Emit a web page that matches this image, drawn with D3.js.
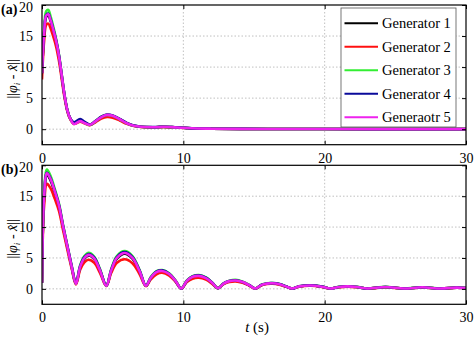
<!DOCTYPE html>
<html><head><meta charset="utf-8">
<script src="https://cdn.jsdelivr.net/npm/d3@7"></script>
<style>
body{margin:0;background:#fff;}
svg{display:block;}
</style></head>
<body><svg id="c" width="474" height="338"></svg>
<script>
// ---------- data ----------
const seriesNames = ["Generator 1","Generator 2","Generator 3","Generator 4","Generaotr 5"];
const seriesColors = ["#000000","#ff1010","#33ee33","#0a0a9a","#ee22ee"];
const xTicks = [0,10,20,30];
const yTicks = [0,5,10,15,20];

// panel (a)
const timeA = [0,0.15,0.3,0.45,0.6,0.8,1.0,1.2,1.4,1.6,1.8,2.0,2.25,2.7,3.0,3.4,3.8,4.2,4.6,5.0,5.5,6.0,6.5,7.0,8.0,8.6,9.2,10,11,12,14,17,20,25,30];
const a_gen1 = [9,15.4,18.1,18.3,17.5,15.9,14.1,11.7,8.5,5.3,3.0,1.7,0.9,1.4,1.05,0.7,1.3,1.95,2.25,2.1,1.6,0.95,0.55,0.38,0.32,0.37,0.33,0.22,0.12,0.08,0.05,0.03,0.02,0.01,0.01];
const a_gen2 = [8,14.2,16.8,17.0,16.3,14.9,13.3,11.0,8.0,5.0,2.8,1.6,0.85,1.2,0.95,0.65,1.15,1.7,1.95,1.85,1.4,0.85,0.5,0.35,0.3,0.35,0.3,0.2,0.1,0.07,0.04,0.03,0.02,0.01,0.01];
const a_gen3 = [9.5,16.2,19.0,19.2,18.2,16.5,14.5,12,8.7,5.4,3.0,1.7,0.9,1.35,1.05,0.7,1.3,2.0,2.3,2.15,1.6,0.95,0.55,0.38,0.32,0.38,0.33,0.22,0.12,0.08,0.05,0.03,0.02,0.01,0.01];
const a_gen4 = [9,15.6,18.4,18.6,17.7,16.1,14.3,11.9,8.6,5.4,3.0,1.75,1.1,1.65,1.2,0.75,1.35,2.0,2.35,2.2,1.65,1.0,0.58,0.4,0.33,0.4,0.34,0.23,0.12,0.08,0.05,0.03,0.02,0.01,0.01];
const a_gen5 = [9,15.5,18.3,18.5,17.6,16,14.2,11.8,8.6,5.4,3.0,1.7,0.85,1.3,1.0,0.7,1.3,1.95,2.3,2.15,1.6,0.95,0.55,0.38,0.32,0.38,0.33,0.22,0.12,0.08,0.05,0.03,0.02,0.01,0.01];

// panel (b)
const timeB = [0,0.15,0.35,0.6,0.9,1.2,1.5,1.8,2.1,2.4,
 2.7,3.0,3.3,3.7,4.1,4.55,
 4.9,5.3,5.85,6.4,6.9,7.35,
 7.7,8.1,8.5,9.0,9.45,9.85,
 10.25,10.65,11.1,11.6,12.05,12.45,
 12.85,13.25,13.7,14.2,14.65,15.1,
 15.5,15.9,16.3,16.8,17.25,17.7,
 18.2,19.0,19.8,20.4,
 21.0,21.6,22.3,23.0,
 24.3,25.6,26.9,28.2,29.3,30];
const b_gen1 = [1,14.8,18.5,17.6,15.6,13.4,9.9,6.7,3.5,0.8,
 3.5,4.9,5.4,4.8,2.95,0.5,
 2.95,4.9,5.7,4.9,2.85,0.5,
 1.75,2.65,2.85,2.35,1.25,0.05,
 1.25,1.9,2.05,1.7,0.92,0.1,
 0.82,1.22,1.32,1.07,0.58,0.05,
 0.58,0.83,0.88,0.73,0.39,0.05,
 0.39,0.54,0.34,0.05,
 0.29,0.39,0.29,0.05,
 0.29,0.05,0.24,0.05,0.19,0.14];
const b_gen2 = [1,13.5,17.0,16.3,14.6,12.6,9.4,6.3,3.3,0.7,
 3.1,4.3,4.7,4.2,2.6,0.45,
 2.6,4.2,4.8,4.15,2.4,0.45,
 1.55,2.35,2.6,2.15,1.15,0.05,
 1.1,1.65,1.8,1.5,0.8,0.1,
 0.75,1.1,1.2,0.98,0.52,0.05,
 0.55,0.78,0.82,0.68,0.36,0.05,
 0.36,0.5,0.32,0.05,
 0.27,0.36,0.27,0.05,
 0.27,0.05,0.22,0.05,0.18,0.13];
const b_gen3 = [1,15.5,19.3,18.3,16.2,13.8,10.2,6.9,3.7,0.85,
 3.8,5.3,5.85,5.2,3.2,0.5,
 3.2,5.3,6.1,5.3,3.05,0.5,
 1.9,2.85,3.05,2.5,1.35,0.05,
 1.35,2.05,2.25,1.85,1.0,0.1,
 0.9,1.3,1.45,1.15,0.65,0.05,
 0.65,0.9,0.95,0.8,0.42,0.05,
 0.42,0.58,0.37,0.05,
 0.32,0.42,0.32,0.05,
 0.32,0.05,0.26,0.05,0.21,0.16];
const b_gen4 = [1,15.1,18.8,17.9,15.9,13.6,10.1,6.9,3.7,0.9,
 3.7,5.15,5.65,5.05,3.1,0.5,
 3.1,5.15,5.95,5.15,3.0,0.5,
 1.85,2.8,3.0,2.45,1.3,0.05,
 1.3,2.0,2.2,1.8,0.98,0.1,
 0.88,1.28,1.4,1.12,0.62,0.05,
 0.62,0.88,0.92,0.77,0.41,0.05,
 0.41,0.56,0.36,0.05,
 0.31,0.41,0.31,0.05,
 0.31,0.05,0.25,0.05,0.2,0.15];
const b_gen5 = [1,15,18.7,17.8,15.8,13.5,10,6.8,3.6,0.8,
 3.6,5.0,5.5,4.9,3.0,0.5,
 3.0,5.0,5.8,5.0,2.9,0.5,
 1.8,2.7,2.9,2.4,1.3,0.05,
 1.3,1.95,2.1,1.75,0.95,0.1,
 0.85,1.25,1.35,1.1,0.6,0.05,
 0.6,0.85,0.9,0.75,0.4,0.05,
 0.4,0.55,0.35,0.05,
 0.3,0.4,0.3,0.05,
 0.3,0.05,0.25,0.05,0.2,0.15];

// ---------- drawing ----------
const FONT = '"Liberation Serif"';
const svg = d3.select("#c");
const X0 = 42, X1 = 466;
const panels = [
  {label:"(a)", t:timeA, s:[a_gen1,a_gen2,a_gen3,a_gen4,a_gen5], top:5, bottom:144.7, legend:true},
  {label:"(b)", t:timeB, s:[b_gen1,b_gen2,b_gen3,b_gen4,b_gen5], top:165.3, bottom:304.3, legend:false}
];

const x = d3.scaleLinear().domain([0,30]).range([X0,X1]);

panels.forEach((p,pi)=>{
  const y = d3.scaleLinear().domain([-2.5,20]).range([p.bottom,p.top]);
  const g = svg.append("g");
  const clipId = "clip"+pi;
  svg.append("clipPath").attr("id",clipId).append("rect")
    .attr("x",X0).attr("y",p.top).attr("width",X1-X0).attr("height",p.bottom-p.top);

  // grid
  g.selectAll(".gx").data(xTicks.filter(v=>v>0&&v<30)).enter().append("line")
    .attr("x1",d=>x(d)).attr("x2",d=>x(d)).attr("y1",p.top).attr("y2",p.bottom)
    .attr("stroke","#b0b0b0").attr("stroke-width",0.8).attr("stroke-dasharray","1.5,2");
  g.selectAll(".gy").data(yTicks.filter(v=>v<20)).enter().append("line")
    .attr("x1",X0).attr("x2",X1).attr("y1",d=>y(d)).attr("y2",d=>y(d))
    .attr("stroke","#b0b0b0").attr("stroke-width",0.8).attr("stroke-dasharray","1.5,2");

  // lines
  const line = d3.line().x(d=>x(d[0])).y(d=>y(d[1])).curve(d3.curveCatmullRom.alpha(0.5));
  const lg = g.append("g").attr("clip-path","url(#"+clipId+")");
  p.s.forEach((vals,i)=>{
    lg.append("path").datum(p.t.map((tt,k)=>[tt,vals[k]]))
      .attr("d",line).attr("fill","none").attr("stroke",seriesColors[i])
      .attr("stroke-width",2.6).attr("stroke-linejoin","round");
  });

  // axes (inward ticks)
  const ax = g.append("g").attr("transform",`translate(0,${p.bottom})`)
    .call(d3.axisBottom(x).tickValues(xTicks).tickSize(-4).tickPadding(6).tickFormat(d3.format("d")));
  const axT = g.append("g").attr("transform",`translate(0,${p.top})`)
    .call(d3.axisTop(x).tickValues(xTicks).tickSize(-4).tickFormat(""));
  const ay = g.append("g").attr("transform",`translate(${X0},0)`)
    .call(d3.axisLeft(y).tickValues(yTicks).tickSize(-4).tickPadding(9).tickFormat(d3.format("d")));
  const ayR = g.append("g").attr("transform",`translate(${X1},0)`)
    .call(d3.axisRight(y).tickValues(yTicks).tickSize(-4).tickFormat(""));
  [ax,axT,ay,ayR].forEach(a=>{
    a.select(".domain").remove();
    a.selectAll("line").attr("stroke","#000").attr("stroke-width",1);
    a.selectAll("text").attr("fill","#000").style("font-family",FONT).style("font-size","14px");
  });
  ax.selectAll("text").attr("dy","0.85em");
  ay.selectAll("text").filter(d=>d===20).attr("dy","0.45em");

  // frame
  g.append("rect").attr("x",X0).attr("y",p.top).attr("width",X1-X0).attr("height",p.bottom-p.top)
    .attr("fill","none").attr("stroke","#000").attr("stroke-width",1.2);

  // panel label
  g.append("text").attr("x",1).attr("y",p.top+9).attr("font-weight","bold")
    .style("font-family",FONT).style("font-size","14px").text(p.label);

  // y label
  const cy = (p.top+p.bottom)/2 + 4;
  const yl = g.append("text").attr("transform",`translate(17,${cy}) rotate(-90)`)
    .attr("text-anchor","middle").style("font-family",FONT).style("font-size","14px");
  yl.append("tspan").text("||");
  yl.append("tspan").attr("font-style","italic").text("φ");
  yl.append("tspan").attr("font-style","italic").style("font-size","9px").attr("dy",3).text("i");
  yl.append("tspan").attr("dy",-3).text(" - ");
  yl.append("tspan").attr("font-style","italic").text("x\u0302");
  yl.append("tspan").text("||");

  // legend
  if(p.legend){
    const lx = 341, ly = 8, lw = 115, lh = 119;
    const leg = g.append("g");
    leg.append("rect").attr("x",lx).attr("y",ly).attr("width",lw).attr("height",lh)
      .attr("fill","#fff").attr("stroke","#555").attr("stroke-width",0.8);
    seriesNames.forEach((nm,i)=>{
      const yy = ly + 15.3 + i*23.5;
      leg.append("line").attr("x1",lx+3.5).attr("x2",lx+37).attr("y1",yy).attr("y2",yy)
        .attr("stroke",seriesColors[i]).attr("stroke-width",2);
      leg.append("text").attr("x",lx+41).attr("y",yy+5)
        .style("font-family",FONT).style("font-size","14.5px").text(nm);
    });
  }
});

// x label
const xl = svg.append("text").attr("x",257).attr("y",332).attr("text-anchor","middle")
  .style("font-family",FONT).style("font-size","15px");
xl.append("tspan").attr("font-style","italic").text("t");
xl.append("tspan").text(" (s)");
</script></body></html>
